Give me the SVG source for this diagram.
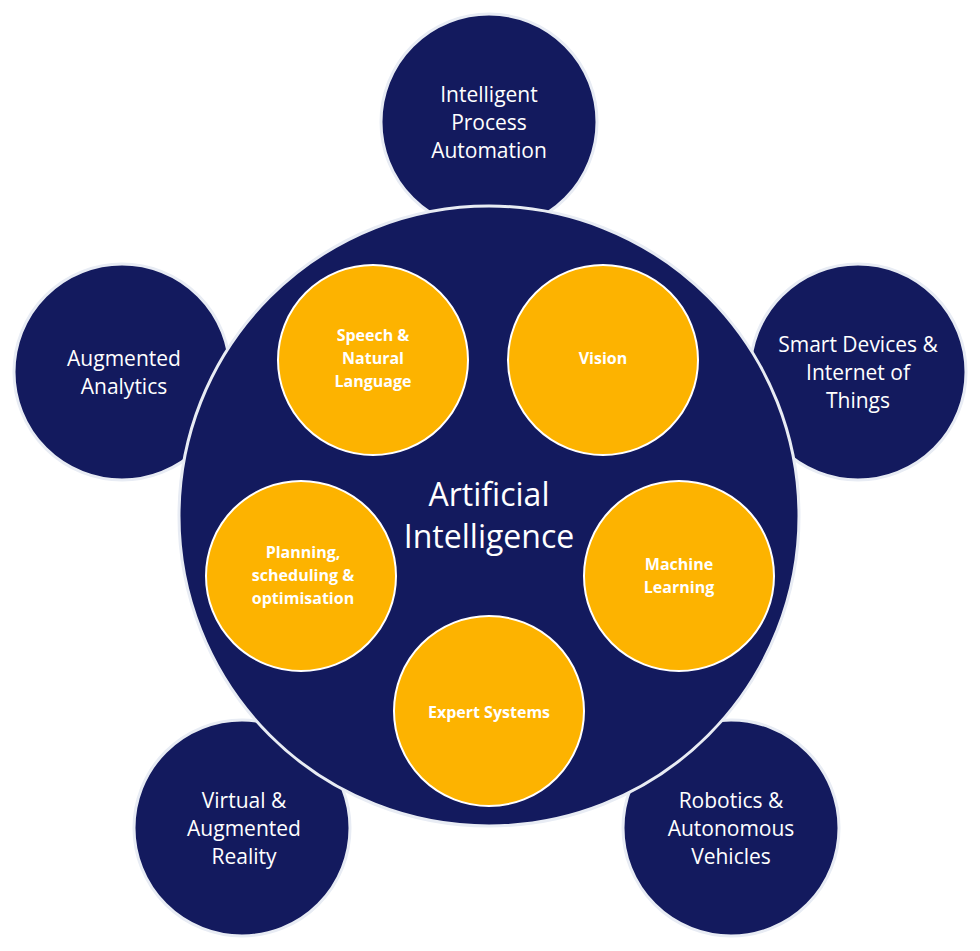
<svg xmlns="http://www.w3.org/2000/svg" width="980" height="951" viewBox="0 0 980 951">
<style>
.o{fill:#131a5e;stroke:#e8ecf4;stroke-width:3}
.c{fill:#131a5e;stroke:#e8ecf4;stroke-width:3}
.y{fill:#fdb300;stroke:#ffffff;stroke-width:2}
.t{font-family:"Open Sans","Noto Sans",sans-serif;fill:#fff;font-size:21px;text-anchor:middle}
.b{font-family:"Open Sans","Noto Sans",sans-serif;fill:#fff;font-size:16px;font-weight:bold;text-anchor:middle}
</style>
<rect width="980" height="951" fill="#fff"/>
<g id="ipa"><circle class="o" cx="489" cy="122" r="108"/><text class="t" x="489" y="102">Intelligent</text><text class="t" x="489" y="130">Process</text><text class="t" x="489" y="158">Automation</text></g>
<g id="aa"><circle class="o" cx="122" cy="372" r="108"/><text class="t" x="124" y="366">Augmented</text><text class="t" x="124" y="394">Analytics</text></g>
<g id="iot"><circle class="o" cx="858" cy="372" r="108"/><text class="t" x="858" y="352">Smart Devices &amp;</text><text class="t" x="858" y="380">Internet of</text><text class="t" x="858" y="408">Things</text></g>
<g id="var"><circle class="o" cx="242" cy="828" r="108"/><text class="t" x="244" y="808">Virtual &amp;</text><text class="t" x="244" y="836">Augmented</text><text class="t" x="244" y="864">Reality</text></g>
<g id="rav"><circle class="o" cx="731" cy="828" r="108"/><text class="t" x="731" y="808">Robotics &amp;</text><text class="t" x="731" y="836">Autonomous</text><text class="t" x="731" y="864">Vehicles</text></g>
<g id="ai"><circle class="c" cx="489" cy="516" r="310"/><text class="t" style="font-size:32px" x="489" y="506">Artificial</text><text class="t" style="font-size:32px" x="489" y="548">Intelligence</text></g>
<g id="speech"><circle class="y" cx="373" cy="360" r="95"/><text class="b" x="373" y="341">Speech &amp;</text><text class="b" x="373" y="364">Natural</text><text class="b" x="373" y="387">Language</text></g>
<g id="vision"><circle class="y" cx="603" cy="360" r="95"/><text class="b" x="603" y="364">Vision</text></g>
<g id="plan"><circle class="y" cx="301" cy="576" r="95"/><text class="b" x="303" y="558">Planning,</text><text class="b" x="303" y="581">scheduling &amp;</text><text class="b" x="303" y="604">optimisation</text></g>
<g id="ml"><circle class="y" cx="679" cy="576" r="95"/><text class="b" x="679" y="570">Machine</text><text class="b" x="679" y="593">Learning</text></g>
<g id="expert"><circle class="y" cx="489" cy="711" r="95"/><text class="b" x="489" y="718">Expert Systems</text></g>
<g id="connectors"></g>
</svg>
